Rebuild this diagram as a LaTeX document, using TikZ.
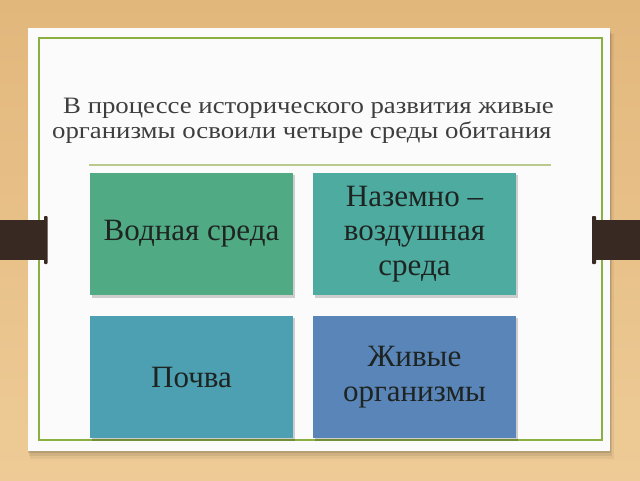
\documentclass[tikz,border=0pt]{standalone}
\usepackage{fontspec}
\setmainfont{Liberation Serif}
\newfontfamily\titlefont[FakeStretch=1.14]{Liberation Serif}
\usetikzlibrary{positioning}
\definecolor{woodtop}{RGB}{226,183,124}
\definecolor{woodbot}{RGB}{238,203,150}
\definecolor{tabbrown}{RGB}{56,42,34}
\definecolor{framegreen}{RGB}{140,175,65}
\definecolor{sepgreen}{RGB}{185,202,140}
\definecolor{cA}{RGB}{80,170,132}
\definecolor{cB}{RGB}{78,171,160}
\definecolor{cC}{RGB}{76,160,178}
\definecolor{cD}{RGB}{90,133,185}
\definecolor{titlegray}{RGB}{62,62,62}
\definecolor{boxtext}{RGB}{30,36,34}
\tikzset{
  envbox/.style={rectangle, minimum width=203pt, minimum height=122pt, inner sep=0pt,
    text=boxtext, align=center, font=\fontsize{31}{34.5}\selectfont},
  titletext/.style={anchor=base west, inner sep=0pt, text=titlegray,
    font=\titlefont\fontsize{23.5}{27}\selectfont},
  tabfill/.style={fill=tabbrown}
}
\begin{document}
\begin{tikzpicture}[x=1pt,y=-1pt]
\useasboundingbox (0,0) rectangle (640,480);
% wood background
\shade[top color=woodtop, bottom color=woodbot] (0,0) rectangle (640,480);
% paper shadow
\fill[black,opacity=0.05] (30,34) rectangle (614,459);
\fill[black,opacity=0.08] (29,33) rectangle (612,456);
\fill[black,opacity=0.10] (28,31) rectangle (611,453);
% paper
\fill[white!97!gray] (28,28) rectangle (610,451);
% green frame
\draw[framegreen, line width=1.2pt] (39,38) rectangle (602,440);
% tabs (on top of paper)
\fill[tabfill] (0,220) rectangle (45,260);
\fill[tabfill, rounded corners=0.8pt] (44,216) rectangle (47.5,264);
\fill[tabfill] (595,220) rectangle (640,260);
\fill[tabfill, rounded corners=0.8pt] (592,216) rectangle (596,264);
% title
\node[titletext] (t1) at (63,113) {В процессе исторического развития живые};
\node[titletext] (t2) at (52,138) {организмы освоили четыре среды обитания};
% separator
\draw[sepgreen, line width=1.6pt] (89,165) coordinate (s1) -- (551,165) coordinate (s2);
% box shadows
\foreach \x/\y in {90/173, 313/173, 90/316, 313/316}
  \fill[black,opacity=0.18] (\x+1.5,\y+2) rectangle (\x+205,\y+124.5);
% boxes
\node[envbox, fill=cA] (b1) at (191.5,234) {Водная среда};
\node[envbox, fill=cB] (b2) at (414.5,234) {Наземно –\\воздушная\\среда};
\node[envbox, fill=cC] (b3) at (191.5,377) {Почва};
\node[envbox, fill=cD] (b4) at (414.5,377) {Живые\\организмы};
\end{tikzpicture}
\end{document}
